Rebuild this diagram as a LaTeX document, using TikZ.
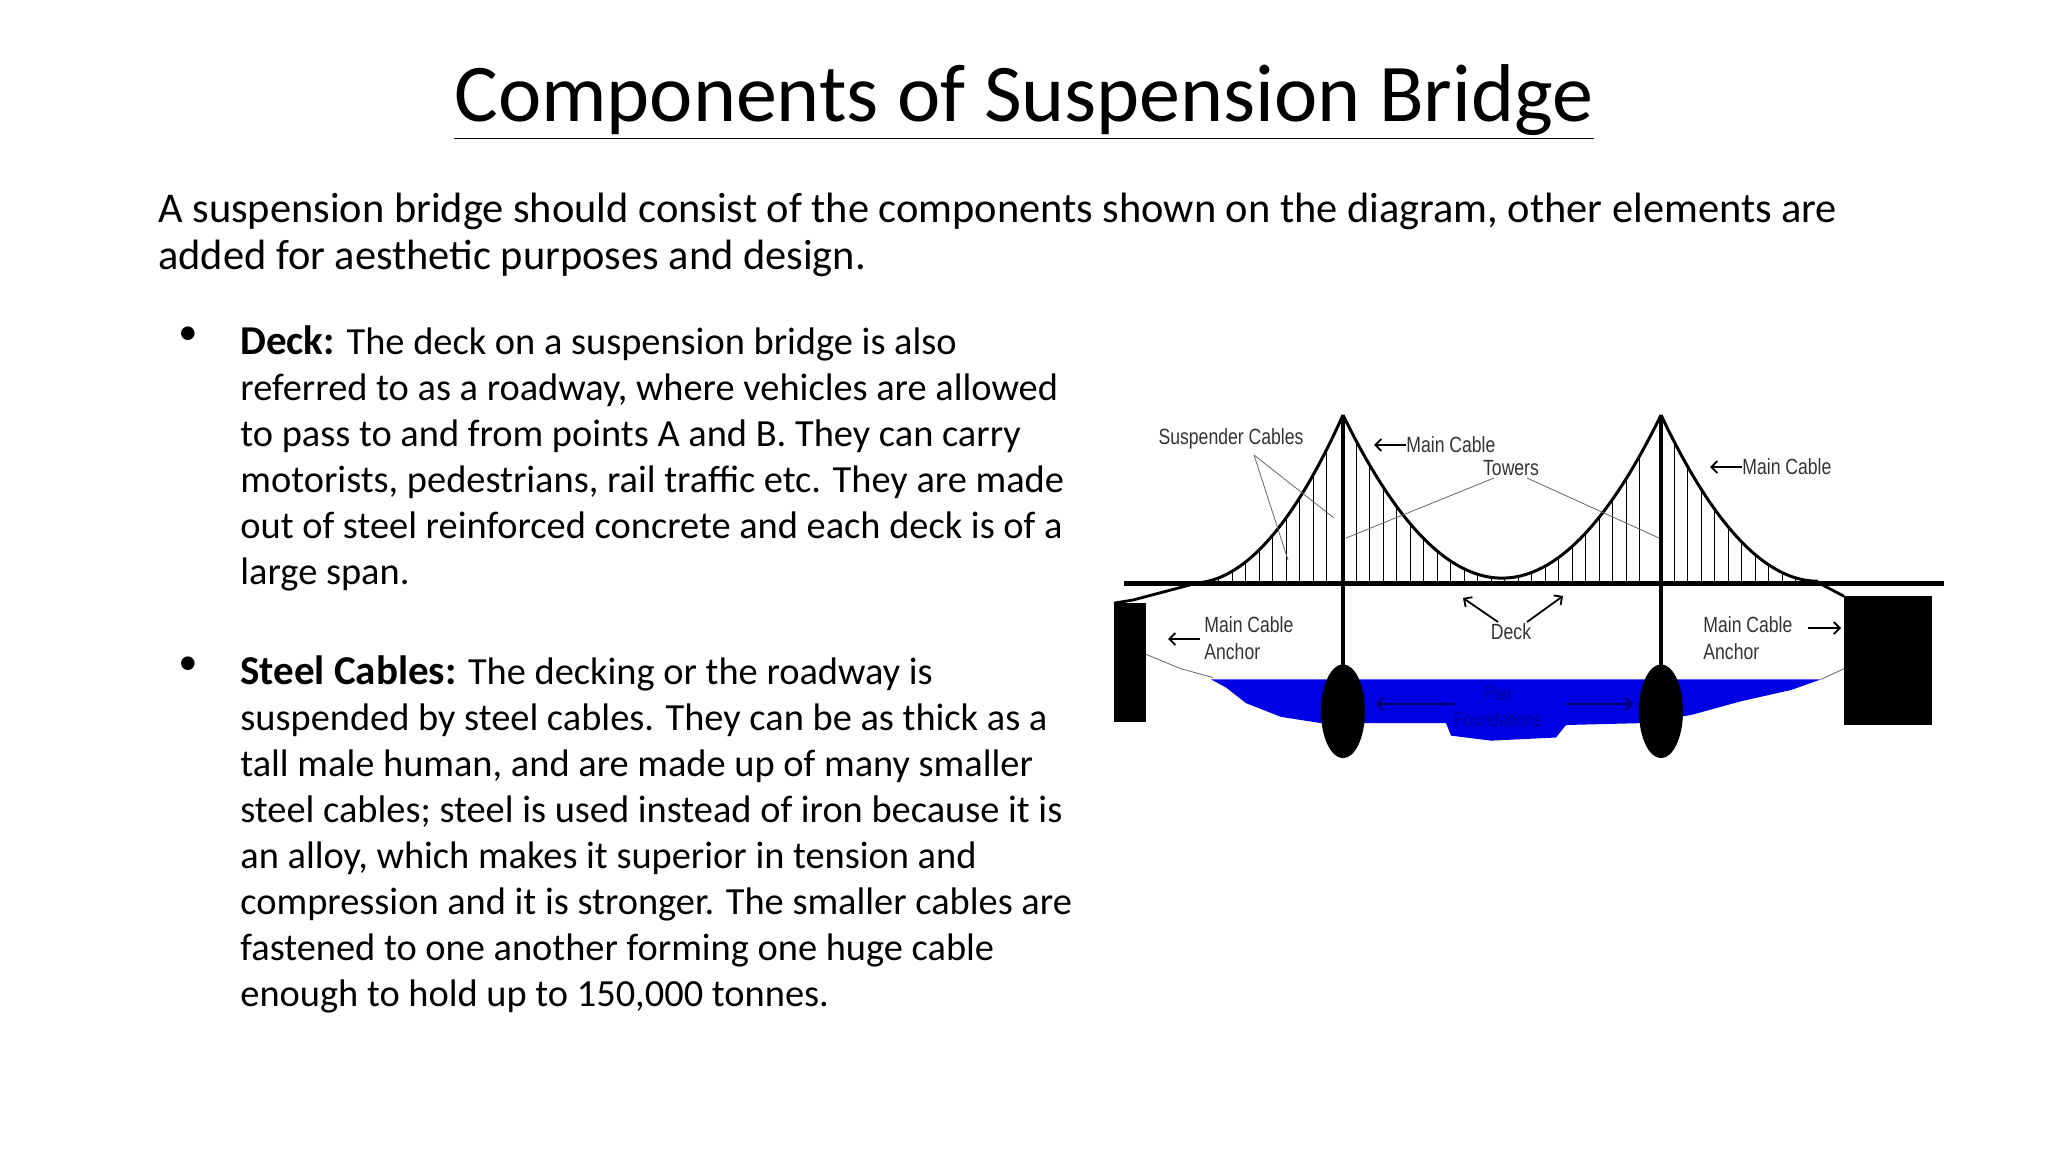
\documentclass[tikz,border=0pt]{standalone}
\usepackage{fontspec}
\setmainfont{Carlito}
\newfontfamily\lblfont[FakeStretch=0.8]{Liberation Sans}
\usetikzlibrary{positioning,arrows.meta}
\tikzset{
  body/.style={anchor=north west,align=left,font=\fontsize{19.2}{23}\selectfont,inner sep=0pt},
  lbl/.style={font=\lblfont\fontsize{11}{13.5}\selectfont,text=black!80,inner sep=0pt,align=left},
  lead/.style={black!60,line width=0.4pt},
  tag/.style={-{Straight Barb[length=3pt]},line width=0.9pt}
}
\begin{document}
\begin{tikzpicture}[x=0.5pt,y=-0.5pt]
	\useasboundingbox (0,0) rectangle (2048,1152);
	
	%title and text
	\node[font=\fontsize{41}{48}\selectfont] (title) at (1024,102) {\underline{Components of Suspension Bridge}};
	\node[body,font=\fontsize{21.2}{23.4}\selectfont] (intro) at (158,193)
		{A suspension bridge should consist of the components shown on the diagram, other elements are\\added for aesthetic purposes and design.};
	\node[body] (b1) at (178,327) {\textbullet};
	\node[body] (deck) at (240,325)
		{{\fontsize{20.5}{23}\selectfont\bfseries Deck:} The deck on a suspension bridge is also\\referred to as a roadway, where vehicles are allowed\\to pass to and from points A and B. They can carry\\motorists, pedestrians, rail traffic etc. They are made\\out of steel reinforced concrete and each deck is of a\\large span.};
	\node[body] (b2) at (178,657) {\textbullet};
	\node[body] (cables) at (240,655)
		{{\fontsize{20.5}{23}\selectfont\bfseries Steel Cables:} The decking or the roadway is\\suspended by steel cables. They can be as thick as a\\tall male human, and are made up of many smaller\\steel cables; steel is used instead of iron because it is\\an alloy, which makes it superior in tension and\\compression and it is stronger. The smaller cables are\\fastened to one another forming one huge cable\\enough to hold up to 150,000 tonnes.};
	
	\begin{scope}[shift={(-9,145)},yscale=0.625]
	%water and ground
	\fill[blue!90!black] (1220,855)--(1830,855)--(1800,872)--(1750,890)--(1700,912)--(1650,925)--(1575,928)
		--(1565,948)--(1500,953)--(1460,945)--(1455,925)--(1330,925)--(1290,915)--(1255,893)--(1235,868)--cycle;
	\draw[lead] (1155,815)--(1190,838)--(1222,852);
	\draw[lead] (1830,855)--(1853,838);
	
	%anchors
	\fill (1123,733) rectangle (1155,923);
	\fill (1853,722) rectangle (1941,928);
	\draw[line width=1.4pt] (1201,703)--(1142,728)--(1123,733);
	\draw[line width=1.4pt] (1827,700)--(1853,722);
	
	%piers and towers
	\fill (1352,906) ellipse (22 and 75);
	\fill (1670,906) ellipse (22 and 75);
	\draw[line width=1.6pt] (1352,701)--(1352,840);
	\draw[line width=1.6pt] (1670,701)--(1670,840);
	\draw[line width=2.2pt] (1352,701)--(1352,432);
	\draw[line width=2.2pt] (1670,701)--(1670,432);
	
	%suspenders
	\foreach \x in {1214,1227.5,...,1345}
		\draw[line width=0.5pt] (\x,{701-269*((\x-1201)/151)^2})--(\x,701);
	\foreach \x in {1365,1378.5,...,1660}
		\draw[line width=0.5pt] (\x,{693-261*((\x-1511)/159)^2})--(\x,701);
	\foreach \x in {1683,1696.5,...,1820}
		\draw[line width=0.5pt] (\x,{698-266*((1827-\x)/157)^2})--(\x,701);
	
	%main cables
	\draw[line width=1.5pt] plot[domain=1201:1352,samples=40] (\x,{701-269*((\x-1201)/151)^2});
	\draw[line width=1.5pt] plot[domain=1352:1670,samples=60] (\x,{693-261*((\x-1511)/159)^2});
	\draw[line width=1.5pt] plot[domain=1670:1827,samples=40] (\x,{698-266*((1827-\x)/157)^2});
	
	%deck
	\draw[line width=2.6pt] (1133,701)--(1953,701);
	\end{scope}
	
	%labels
	\node[font=\lblfont\fontsize{10}{12}\selectfont,text=blue!60!black] (pier) at (1498,693) {Pier};
	\node[font=\lblfont\fontsize{10}{12}\selectfont,text=blue!60!black] (found) at (1498,719) {Foundations};
	\node[lbl] (susp) at (1231,439) {Suspender Cables};
	\draw[lead] (1254,455)--(1288,560);
	\draw[lead] (1254,455)--(1334,518);
	\node[lbl,anchor=west] (mc1) at (1406,445) {Main Cable};
	\draw[tag] (mc1.west)--++(-32,0);
	\node[lbl] (towers) at (1511,468) {Towers};
	\draw[lead] (1494,478)--(1346,538);
	\draw[lead] (1527,478)--(1659,538);
	\node[lbl,anchor=west] (mc2) at (1742,467) {Main Cable};
	\draw[tag] (mc2.west)--++(-32,0);
	\node[lbl] (dk) at (1511,632) {Deck};
	\draw[tag] (1498,622)--(1463,598);
	\draw[tag] (1527,622)--(1563,596);
	\node[lbl,anchor=west] (anc1) at (1204,638) {Main Cable\\Anchor};
	\draw[tag] (1200,639)--(1168,639);
	\node[lbl,anchor=west] (anc2) at (1703,638) {Main Cable\\Anchor};
	\draw[tag] (1808,628)--(1841,628);
	\draw[tag,blue!40!black] (1455,704)--(1376,704);
	\draw[tag,blue!40!black] (1567,704)--(1633,704);
\end{tikzpicture}
\end{document}
